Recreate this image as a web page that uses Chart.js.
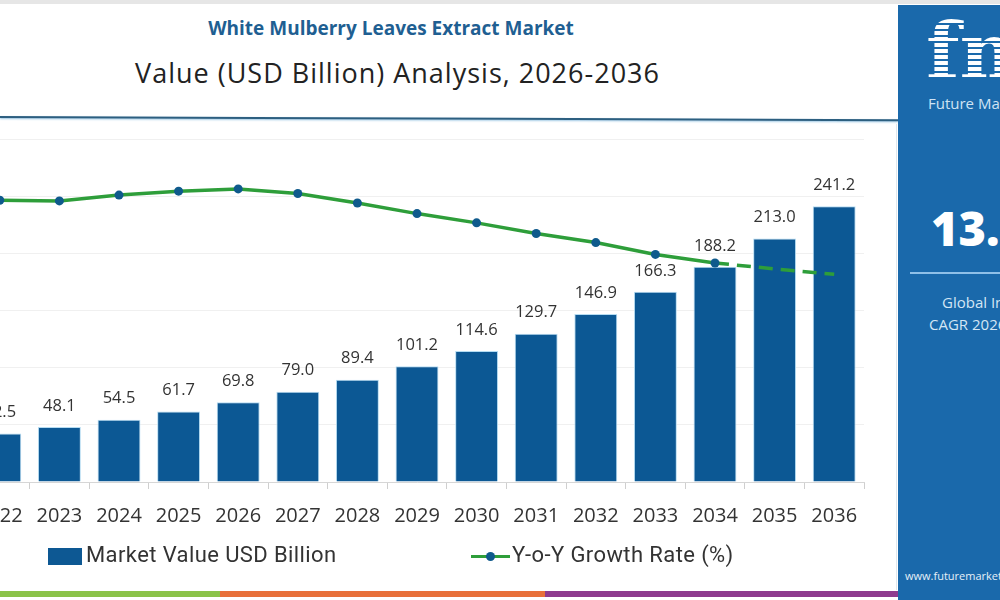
<!DOCTYPE html>
<html lang="en">
<head>
  <meta charset="UTF-8" />
  <title>White Mulberry Leaves Extract Market</title>
  <script src="https://cdn.jsdelivr.net/npm/chart.js"></script>
  <style>
    body {
      margin: 0;
      width: 1000px;
      height: 600px;
      overflow: hidden;
      position: relative;
      background: #ffffff;
      font-family: "Open Sans", Arial, sans-serif;
    }
    .topband { position: absolute; left: 0; top: 0; width: 1000px; height: 4px; background: #e6e6e6; }
    .title {
      position: absolute; left: 0; width: 782px; top: 15px;
      text-align: center; font-size: 19px; font-weight: 700; color: #1f5f92;
    }
    .subtitle {
      position: absolute; left: 0; width: 795px; top: 54px;
      text-align: center; font-size: 27px; letter-spacing: 1px; color: #222;
    }
    .rule {
      position: absolute; left: 0; top: 116px; width: 898px; height: 2px;
      background: #2d5f80; transform-origin: 0 0; transform: rotate(0.2deg);
      box-shadow: 0 1px 2px #9cc7e3;
    }
    .vline { position: absolute; left: 896px; top: 124px; width: 1px; height: 466px; background: #dfe6ec; }
    #chart { position: absolute; left: -60px; top: 125px; }
    .legend { position: absolute; top: 542px; font-family: Roboto, sans-serif; font-size: 22px; letter-spacing: 0.4px; color: #333; }
    .sw-bar { position: absolute; left: 48px; top: 548px; width: 34px; height: 17px; background: #0d5893; }
    .sw-line { position: absolute; left: 471px; top: 555px; width: 39px; height: 3px; background: #2e9e3a; }
    .sw-dot { position: absolute; left: 486px; top: 552px; width: 9px; height: 9px; border-radius: 50%; background: #0f5a8c; }
    .strip { position: absolute; top: 591px; height: 6px; }
    .panel {
      position: absolute; left: 898px; top: 5px; width: 102px; height: 595px;
      background: #1a69ab; overflow: hidden; color: #fff; white-space: nowrap;
    }
    .logo {
      position: absolute; left: 28px; top: 8px; font-family: "DejaVu Serif", serif; font-weight: 700;
      font-size: 78px; line-height: 1;
      background: repeating-linear-gradient(#ffffff 0 4px, #1a69ab 4px 6px);
      -webkit-background-clip: text; background-clip: text; color: transparent;
    }
    .brand { position: absolute; left: 30px; top: 88px; font-size: 15px; color: #cfe3f4; }
    .cagr { position: absolute; left: 33px; top: 191px; font-size: 47px; font-weight: 800; line-height: 64px; }
    .sep { position: absolute; left: 12px; top: 267px; width: 100px; height: 2px; background: #8fc0e8; }
    .p1 { position: absolute; left: 44px; top: 287px; font-size: 15px; color: #d4e6f5; }
    .p2 { position: absolute; left: 31px; top: 309px; font-size: 15px; color: #d4e6f5; }
    .url { position: absolute; left: 7px; top: 563px; font-size: 11px; color: #e6f0f8; }
  </style>
</head>
<body>
  <div class="topband"></div>
  <div class="title">White Mulberry Leaves Extract Market</div>
  <div class="subtitle">Value (USD Billion) Analysis, 2026-2036</div>
  <div class="rule"></div>
  <div class="vline"></div>

  <canvas id="chart" width="960" height="418"></canvas>

  <div class="sw-bar"></div>
  <div class="legend" style="left: 86px;">Market Value USD Billion</div>
  <div class="sw-line"></div>
  <div class="sw-dot"></div>
  <div class="legend" style="left: 512px;">Y-o-Y Growth Rate (%)</div>

  <div class="strip" style="left: 0; width: 220px; background: #8bc34a;"></div>
  <div class="strip" style="left: 220px; width: 325px; background: #e8703a;"></div>
  <div class="strip" style="left: 545px; width: 353px; background: #8e3b8e;"></div>

  <div class="panel">
    <div class="logo">fmi</div>
    <div class="brand">Future Market Insights</div>
    <div class="cagr">13.2%</div>
    <div class="sep"></div>
    <div class="p1">Global Industry</div>
    <div class="p2">CAGR 2026-2036</div>
    <div class="url">www.futuremarketinsights.com</div>
  </div>

  <script>
    const years = ['2022', '2023', '2024', '2025', '2026', '2027', '2028', '2029',
                   '2030', '2031', '2032', '2033', '2034', '2035', '2036'];
    const marketValue = [42.5, 48.1, 54.5, 61.7, 69.8, 79.0, 89.4, 101.2,
                         114.6, 129.7, 146.9, 166.3, 188.2, 213.0, 241.2];
    // growth line (secondary axis is hidden)
    const growthRate = [16.43, 16.39, 16.73, 16.96, 17.09, 16.82, 16.27, 15.65,
                        15.11, 14.49, 13.96, 13.27, 12.77, 12.43, 12.11];
    const lastMarked = 12; // 2034, after that the line is dashed

    const valueLabels = {
      id: 'valueLabels',
      afterDatasetsDraw(chart) {
        const ctx = chart.ctx;
        const meta = chart.getDatasetMeta(0);
        ctx.save();
        ctx.font = '16.5px "Open Sans", sans-serif';
        ctx.fillStyle = '#333';
        ctx.textAlign = 'center';
        ctx.textBaseline = 'middle';
        meta.data.forEach((bar, i) => {
          ctx.fillText(marketValue[i].toFixed(1), bar.x, bar.y - 21);
        });
        ctx.restore();
      }
    };

    new Chart(document.getElementById('chart'), {
      data: {
        labels: years,
        datasets: [{
          type: 'bar',
          data: marketValue,
          backgroundColor: '#0c5894',
          borderColor: '#b5dcf2',
          borderWidth: 1,
          categoryPercentage: 1,
          barPercentage: 0.72,
          order: 1,
          yAxisID: 'y'
        }, {
          type: 'line',
          data: growthRate,
          borderColor: '#2e9e3a',
          borderWidth: 3.5,
          tension: 0,
          pointRadius: years.map((y, i) => i <= lastMarked ? 4.5 : 0),
          pointBackgroundColor: '#0f5a8c',
          pointBorderColor: '#0f5a8c',
          pointBorderWidth: 0,
          segment: {
            borderDash: ctx => ctx.p0DataIndex >= lastMarked ? [14, 8] : undefined
          },
          order: 0,
          yAxisID: 'y1'
        }]
      },
      options: {
        responsive: false,
        animation: false,
        events: [],
        layout: { padding: { left: 30, right: 36, top: 14, bottom: 0 } },
        plugins: { legend: { display: false }, tooltip: { enabled: false } },
        scales: {
          x: {
            grid: { drawOnChartArea: false, drawTicks: true, tickLength: 7, color: '#cfcfcf', offset: true },
            border: { color: '#d6d6d6' },
            ticks: { color: '#333', font: { family: 'Open Sans', size: 20 }, padding: 15, maxRotation: 0, autoSkip: false }
          },
          y: {
            min: 0, max: 300,
            ticks: { display: false, stepSize: 50 },
            grid: { color: '#f0f0f0', drawTicks: false },
            border: { display: false }
          },
          y1: {
            display: false,
            min: 0, max: 20
          }
        }
      },
      plugins: [valueLabels]
    });
  </script>
</body>
</html>
